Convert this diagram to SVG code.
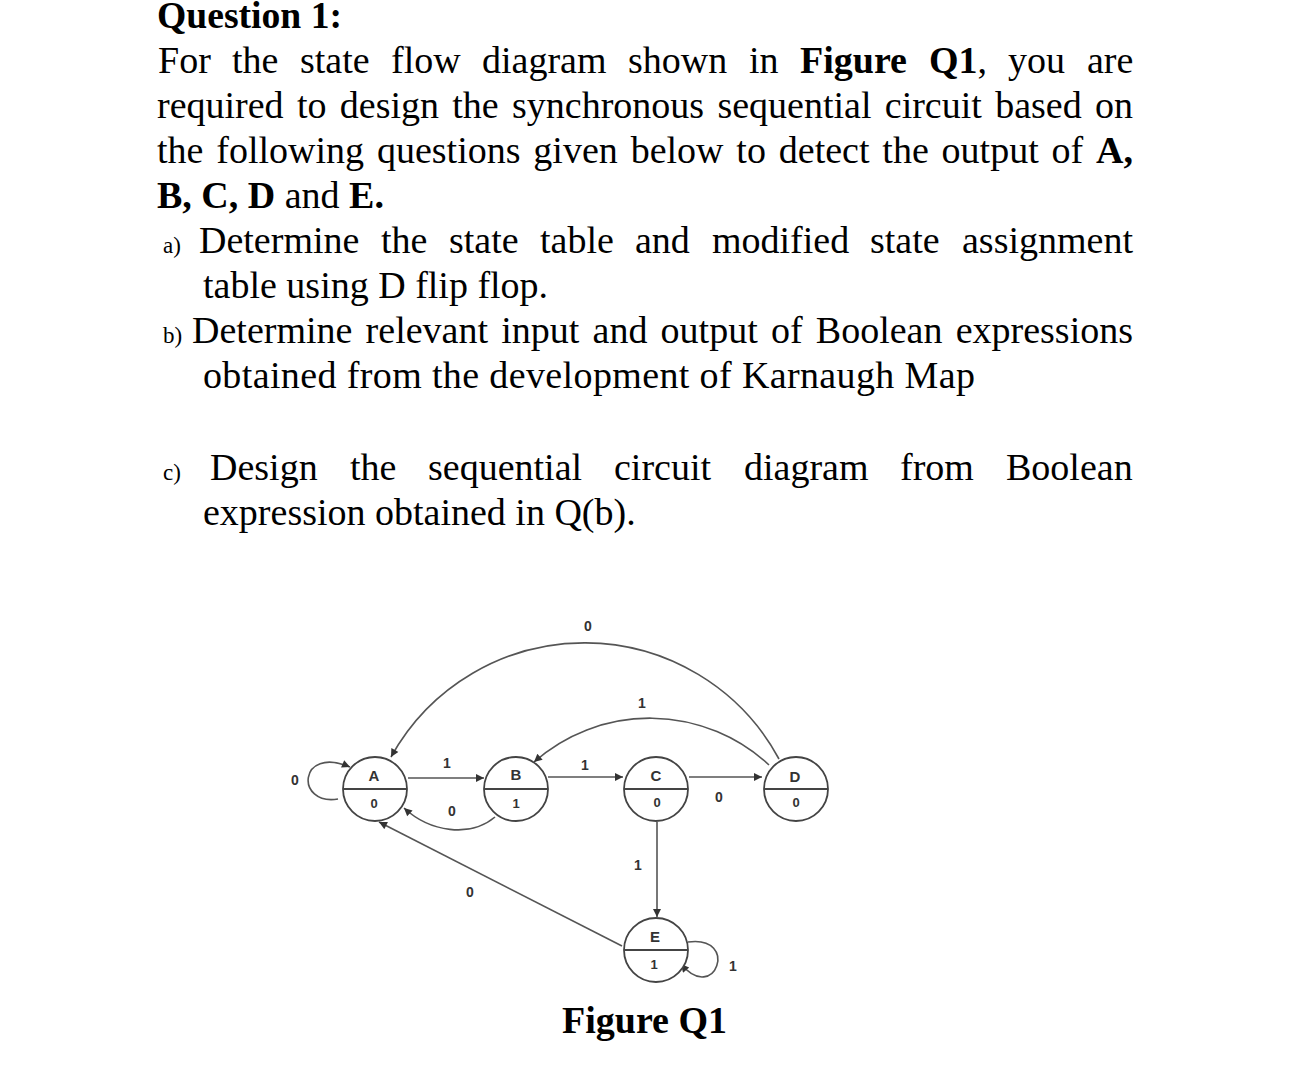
<svg xmlns="http://www.w3.org/2000/svg" width="1290" height="1082" viewBox="0 0 1290 1082">
<style>
.body{font-family:"Liberation Serif","Times New Roman",serif;font-size:38px;fill:#000}
.b{font-weight:bold}
.lbl{font-family:"Liberation Serif","Times New Roman",serif;font-size:23px;fill:#000}
.st{fill:#fff;stroke:#444;stroke-width:1.8}
.dv{stroke:#444;stroke-width:1.8}
.nl{font-family:"Liberation Sans",Arial,sans-serif;font-weight:bold;font-size:15px;fill:#333;text-anchor:middle}
.nd{font-family:"Liberation Sans",Arial,sans-serif;font-weight:bold;font-size:13px;fill:#333;text-anchor:middle}
.el{font-family:"Liberation Sans",Arial,sans-serif;font-weight:bold;font-size:14px;fill:#333;text-anchor:middle}
.cn{fill:none;stroke:#555;stroke-width:1.6;marker-end:url(#ah)}
</style>
<defs>
<marker id="ah" viewBox="0 0 10 10" refX="10" refY="5" markerWidth="10" markerHeight="8" markerUnits="userSpaceOnUse" orient="auto">
<path d="M0,0 L10,5 L0,10 z" fill="#333"/>
</marker>
</defs>
<rect width="1290" height="1082" fill="#fff"/>

<g id="text">
<text class="body b" x="157" y="28" textLength="185" lengthAdjust="spacingAndGlyphs">Question 1:</text>
<text class="body" y="73"><tspan x="158">For</tspan><tspan x="232">the</tspan><tspan x="300">state</tspan><tspan x="391">flow</tspan><tspan x="482">diagram</tspan><tspan x="628">shown</tspan><tspan x="749">in</tspan><tspan x="800" class="b">Figure</tspan><tspan x="929"><tspan class="b">Q1</tspan>,</tspan><tspan x="1008">you</tspan><tspan x="1087">are</tspan></text>
<text class="body" x="157" y="118" word-spacing="3.8" textLength="976" lengthAdjust="spacing">required to design the synchronous sequential circuit based on</text>
<text class="body" x="157" y="163" word-spacing="3.3" textLength="976" lengthAdjust="spacing">the following questions given below to detect the output of <tspan class="b">A,</tspan></text>
<text class="body" x="157" y="208"><tspan class="b">B, C, D</tspan> and <tspan class="b">E.</tspan></text>

<text class="lbl" x="163" y="253">a)</text>
<text class="body" y="253"><tspan x="199">Determine</tspan><tspan x="381">the</tspan><tspan x="449">state</tspan><tspan x="540">table</tspan><tspan x="635">and</tspan><tspan x="712">modified</tspan><tspan x="870">state</tspan><tspan x="962">assignment</tspan></text>
<text class="body" x="203" y="298">table using D flip flop.</text>

<text class="lbl" x="163" y="343">b)</text>
<text class="body" x="192" y="343" word-spacing="3.7" textLength="941" lengthAdjust="spacing">Determine relevant input and output of Boolean expressions</text>
<text class="body" x="203" y="388" textLength="772" lengthAdjust="spacing">obtained from the development of Karnaugh Map</text>

<text class="lbl" x="163" y="480">c)</text>
<text class="body" y="480"><tspan x="210">Design</tspan><tspan x="350">the</tspan><tspan x="428">sequential</tspan><tspan x="614">circuit</tspan><tspan x="744">diagram</tspan><tspan x="900">from</tspan><tspan x="1006">Boolean</tspan></text>
<text class="body" x="203" y="525">expression obtained in Q(b).</text>

<text class="body b" x="562" y="1033" textLength="165" lengthAdjust="spacingAndGlyphs">Figure Q1</text>
</g>

<g id="connectors">
<path class="cn" d="M338,799 C295,806 298,745 350,767"/>
<path class="cn" d="M408,778 L484,778"/>
<path class="cn" d="M495,817 C470,838 430,832 404,808"/>
<path class="cn" d="M779,759 A221,221 0 0 0 391,757"/>
<path class="cn" d="M769,765 A175,175 0 0 0 534,762"/>
<path class="cn" d="M548,777 L623,777"/>
<path class="cn" d="M689,777 L762,777"/>
<path class="cn" d="M657,822 L657,917"/>
<path class="cn" d="M688,942 C740,935 715,1005 681,964"/>
<path class="cn" d="M622,946 L379,822"/>
<text class="el" x="295" y="785">0</text>
<text class="el" x="447" y="768">1</text>
<text class="el" x="452" y="816">0</text>
<text class="el" x="588" y="631">0</text>
<text class="el" x="642" y="708">1</text>
<text class="el" x="585" y="770">1</text>
<text class="el" x="719" y="802">0</text>
<text class="el" x="638" y="870">1</text>
<text class="el" x="733" y="971">1</text>
<text class="el" x="470" y="897">0</text>
</g>

<g id="node-A">
<circle class="st" cx="375" cy="789" r="32"/>
<line class="dv" x1="343" y1="789" x2="407" y2="789"/>
<text class="nl" x="374" y="781">A</text>
<text class="nd" x="374" y="808">0</text>
</g>
<g id="node-B">
<circle class="st" cx="516" cy="789" r="32"/>
<line class="dv" x1="484" y1="789" x2="548" y2="789"/>
<text class="nl" x="516" y="780">B</text>
<text class="nd" x="516" y="808">1</text>
</g>
<g id="node-C">
<circle class="st" cx="656" cy="789" r="32"/>
<line class="dv" x1="624" y1="789" x2="688" y2="789"/>
<text class="nl" x="656" y="781">C</text>
<text class="nd" x="657" y="807">0</text>
</g>
<g id="node-D">
<circle class="st" cx="796" cy="789" r="32"/>
<line class="dv" x1="764" y1="789" x2="828" y2="789"/>
<text class="nl" x="795" y="782">D</text>
<text class="nd" x="796" y="807">0</text>
</g>
<g id="node-E">
<circle class="st" cx="656" cy="950" r="32"/>
<line class="dv" x1="624" y1="950" x2="688" y2="950"/>
<text class="nl" x="655" y="942">E</text>
<text class="nd" x="654" y="969">1</text>
</g>
</svg>
